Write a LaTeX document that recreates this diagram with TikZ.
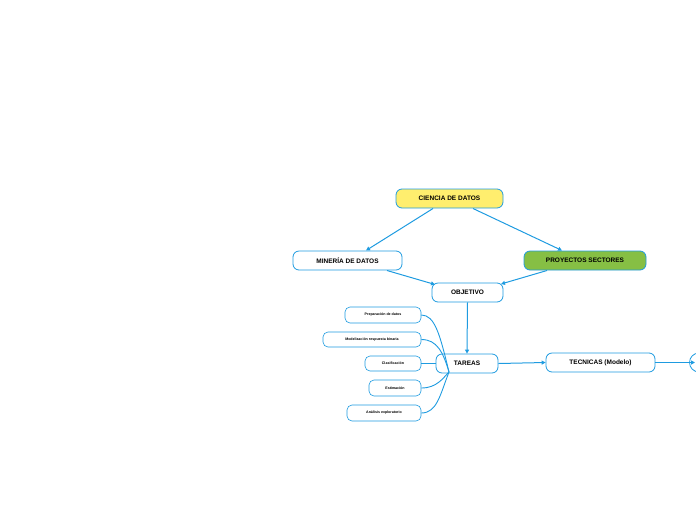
\documentclass[tikz,border=0pt]{standalone}
\usepackage{fontspec}
\setmainfont{Liberation Sans}
\usetikzlibrary{arrows.meta}
\definecolor{lb}{HTML}{1E9BE0}
\definecolor{yel}{HTML}{FFEE6E}
\definecolor{grn}{HTML}{86BF44}
\begin{document}
\begin{tikzpicture}[x=1pt,y=-1pt,
 box/.style={draw=lb,line width=0.8pt,rounded corners=6pt,fill=white,inner sep=0pt,font=\bfseries\fontsize{6.5}{7}\selectfont},
 sbox/.style={draw=lb,line width=0.6pt,rounded corners=5pt,fill=white,inner sep=0pt,font=\bfseries\fontsize{3.6}{4}\selectfont},
 arr/.style={draw=lb,line width=1pt,-{Triangle[length=4pt,width=4pt]}},
 ln/.style={draw=lb,line width=0.9pt}]
\useasboundingbox (0,0) rectangle (696,520);
\node[box,fill=yel,minimum width=107pt,minimum height=19pt] (cd) at (449.5,198.5) {CIENCIA DE DATOS};
\node[box,minimum width=109pt,minimum height=19pt] (md) at (347.5,260.5) {MINERÍA DE DATOS};
\node[box,fill=grn,draw=lb,minimum width=122pt,minimum height=19pt] (ps) at (585,260.5) {PROYECTOS SECTORES};
\node[box,minimum width=71pt,minimum height=19pt] (ob) at (467.5,292.5) {OBJETIVO};
\node[box,minimum width=62pt,minimum height=19pt] (ta) at (467,363.5) {TAREAS};
\node[box,minimum width=109pt,minimum height=19pt] (te) at (600.5,362.5) {TECNICAS (Modelo)};
\node[sbox,minimum width=76pt,minimum height=16pt] (s1) at (383,315) {Preparación de datos};
\node[sbox,minimum width=98pt,minimum height=15pt] (s2) at (372,339.5) {Modelización respuesta binaria};
\node[sbox,minimum width=56pt,minimum height=15pt] (s3) at (393,363.5) {Clasificación};
\node[sbox,minimum width=52pt,minimum height=16pt] (s4) at (395,388) {Estimación};
\node[sbox,minimum width=74pt,minimum height=16pt] (s5) at (384,413) {Análisis exploratorio};
\coordinate (ed) at (695,362.5);
\draw[draw=lb,line width=0.8pt] (699,353) arc[start angle=90,end angle=270,radius=9.5pt];
\draw[arr] (433,208.5) -- (366,250.5);
\draw[arr] (473,208.5) -- (562,250.5);
\draw[arr] (387,270.5) -- (435,284.5);
\draw[arr] (547,270.5) -- (501,284);
\draw[arr] (ob.south) -- (ta.north);
\draw[arr] (ta.east) -- (te.west);
\draw[arr] (te.east) -- (ed);
\coordinate (tj) at (449,372);
\draw[ln] (s1.east) .. controls (435,315) and (440,335) .. (tj);
\draw[ln] (s2.east) .. controls (437,339.5) and (443,352) .. (tj);
\draw[ln] (s3.east) -- (ta.west);
\draw[ln] (s4.east) .. controls (437,388) and (443,378) .. (tj);
\draw[ln] (s5.east) .. controls (437,413) and (440,395) .. (tj);
\end{tikzpicture}
\end{document}
